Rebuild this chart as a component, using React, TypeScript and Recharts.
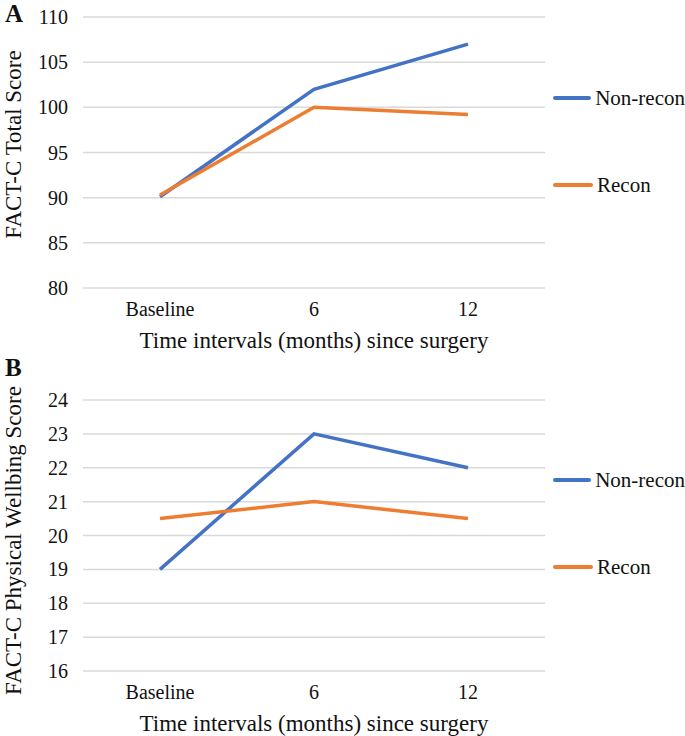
import React from 'react';
import { LineChart, Line, XAxis, YAxis, CartesianGrid, Legend, Label } from 'recharts';

const categories = ['Baseline', '6', '12'];
const totalNonRecon = [90.1, 102, 107];
const totalRecon = [90.3, 100, 99.2];
const totalTicks = [80, 85, 90, 95, 100, 105, 110];
const physNonRecon = [19, 23, 22];
const physRecon = [20.5, 21, 20.5];
const physTicks = [16, 17, 18, 19, 20, 21, 22, 23, 24];
const seriesNames = ['Non-recon', 'Recon'];
const xTitle = 'Time intervals (months) since surgery';

const BLUE = '#4472C4';
const ORANGE = '#ED7D31';
const FONT = '"Liberation Serif", "Times New Roman", serif';
const TEXT = '#111';

function build(a: number[], b: number[]) {
  return categories.map((c, i) => ({ cat: c, nonRecon: a[i], recon: b[i] }));
}

type PanelProps = {
  top: number;
  height: number;
  plotTop: number;
  plotBottom: number;
  data: any[];
  ticks: number[];
  yLabel: string;
  letter: string;
  letterTop: number;
  legendTop: number;
  yLabelShift: number;
  xTitleOffset: number;
};

function LegendContent() {
  const row = (color: string, name: string, mt: number) => (
    <div style={{ display: 'flex', alignItems: 'center', height: 24, marginTop: mt }}>
      <div style={{ width: 40, height: 4, background: color, borderRadius: 2 }} />
      <span style={{ marginLeft: 4, fontFamily: FONT, fontSize: 21, color: TEXT, whiteSpace: 'nowrap' }}>{name}</span>
    </div>
  );
  return (
    <div>
      {row(BLUE, seriesNames[0], 0)}
      {row(ORANGE, seriesNames[1], 63)}
    </div>
  );
}

const XTick = (props: any) => (
  <text
    x={props.x}
    y={props.y}
    dy="0.71em"
    textAnchor="middle"
    style={{ fontFamily: FONT, fontSize: 20, fill: TEXT }}
  >
    {props.payload.value}
  </text>
);

const YTick = (props: any) => (
  <text
    x={props.x}
    y={props.y}
    dy="0.355em"
    textAnchor="end"
    style={{ fontFamily: FONT, fontSize: 20, fill: TEXT }}
  >
    {props.payload.value}
  </text>
);

function Panel(p: PanelProps) {
  const xAxisHeight = p.height - p.plotBottom;
  return (
    <div style={{ position: 'absolute', left: 0, top: p.top, width: 685, height: p.height, fontFamily: FONT }}>
      <LineChart
        width={685}
        height={p.height}
        data={p.data}
        style={{ fontFamily: FONT }}
        margin={{ top: p.plotTop, right: 140, bottom: 0, left: 0 }}
      >
        <CartesianGrid vertical={false} stroke="#d9d9d9" strokeWidth={1.5} />
        <XAxis
          dataKey="cat"
          axisLine={false}
          tickLine={false}
          tickSize={0}
          tickMargin={14}
          height={xAxisHeight}
          padding={{ left: 77, right: 77 }}
          tick={<XTick />}
          interval={0}
        >
          <Label
            content={(props: any) => {
              const vb = props.viewBox || { x: 0, y: 0, width: 0, height: 0 };
              const cx = vb.x + vb.width / 2;
              const by = vb.y + vb.height - p.xTitleOffset;
              return (
                <text
                  x={cx}
                  y={by}
                  textAnchor="middle"
                  style={{ fontFamily: FONT, fontSize: 23, fill: TEXT }}
                >
                  {xTitle}
                </text>
              );
            }}
          />
        </XAxis>
        <YAxis
          width={83}
          domain={[p.ticks[0], p.ticks[p.ticks.length - 1]]}
          ticks={p.ticks}
          interval={0}
          axisLine={false}
          tickLine={false}
          tickSize={0}
          tickMargin={15}
          tick={<YTick />}
        >
          <Label
            content={(props: any) => {
              const vb = props.viewBox || { x: 0, y: 0, width: 83, height: 100 };
              const cx = 13;
              const cy = vb.y + vb.height / 2 + p.yLabelShift;
              return (
                <text
                  x={cx}
                  y={cy}
                  transform={`rotate(-90 ${cx} ${cy})`}
                  textAnchor="middle"
                  dominantBaseline="central"
                  style={{ fontFamily: FONT, fontSize: 23, fill: TEXT }}
                >
                  {p.yLabel}
                </text>
              );
            }}
          />
        </YAxis>
        <Legend
          layout="vertical"
          align="center"
          verticalAlign="middle"
          content={() => <LegendContent />}
          wrapperStyle={{ position: 'absolute', left: 553, top: p.legendTop - 12, width: 132 }}
        />
        <Line
          type="linear"
          dataKey="nonRecon"
          name={seriesNames[0]}
          stroke={BLUE}
          strokeWidth={3.5}
          dot={false}
          activeDot={false}
          isAnimationActive={false}
        />
        <Line
          type="linear"
          dataKey="recon"
          name={seriesNames[1]}
          stroke={ORANGE}
          strokeWidth={3.5}
          dot={false}
          activeDot={false}
          isAnimationActive={false}
        />
      </LineChart>
      <div
        style={{
          position: 'absolute',
          left: 5,
          top: p.letterTop,
          fontFamily: FONT,
          fontWeight: 'bold',
          fontSize: 25,
          lineHeight: '25px',
          color: TEXT,
        }}
      >
        {p.letter}
      </div>
    </div>
  );
}

export default function App() {
  return (
    <div
      style={{
        position: 'absolute',
        left: 0,
        top: 0,
        width: 685,
        height: 736,
        overflow: 'hidden',
        background: '#fff',
        fontFamily: FONT,
      }}
    >
      <Panel
        top={0}
        height={360}
        plotTop={17}
        plotBottom={288}
        data={build(totalNonRecon, totalRecon)}
        ticks={totalTicks}
        yLabel="FACT-C Total Score"
        letter="A"
        letterTop={1}
        legendTop={98}
        yLabelShift={-8}
        xTitleOffset={12}
      />
      <Panel
        top={360}
        height={376}
        plotTop={40}
        plotBottom={311}
        data={build(physNonRecon, physRecon)}
        ticks={physTicks}
        yLabel="FACT-C Physical Wellbing Score"
        letter="B"
        letterTop={-5}
        legendTop={120}
        yLabelShift={5}
        xTitleOffset={5}
      />
    </div>
  );
}
